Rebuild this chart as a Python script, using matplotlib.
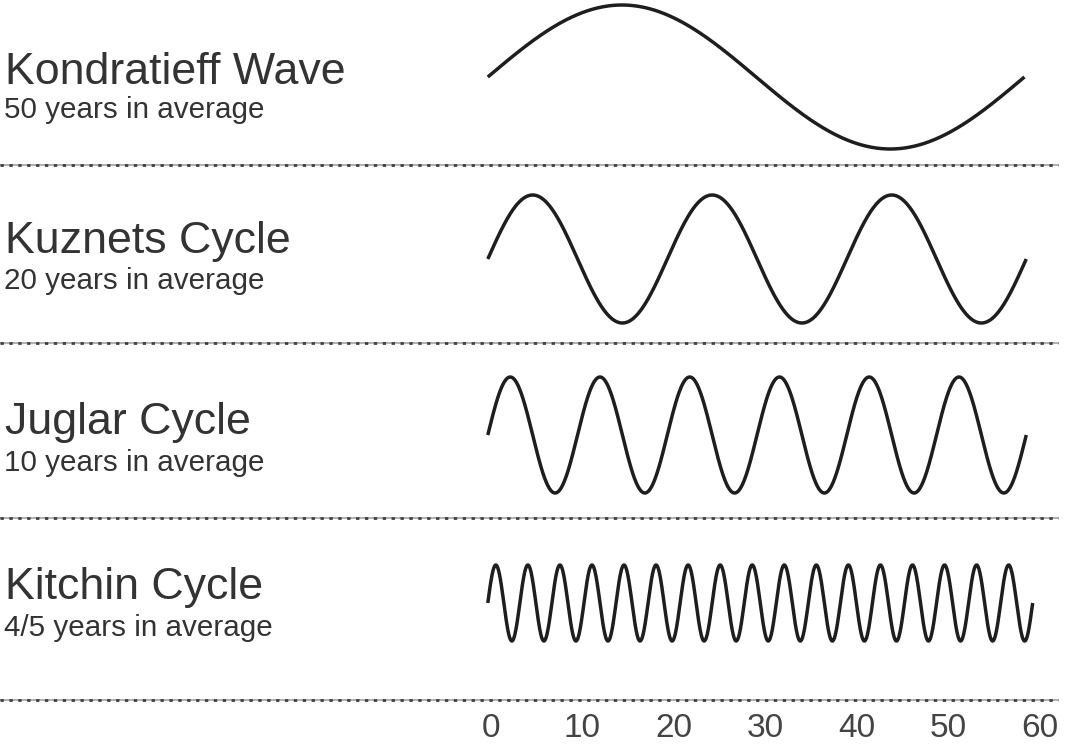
import numpy as np
import matplotlib
matplotlib.use("Agg")
import matplotlib.pyplot as plt

# --- data ---
cycle_names = ["Kondratieff Wave", "Kuznets Cycle", "Juglar Cycle", "Kitchin Cycle"]
cycle_notes = ["50 years in average", "20 years in average",
               "10 years in average", "4/5 years in average"]
cycles_drawn = [1, 3, 6, 17]            # full waves drawn across the strip
wave_end = [58.3, 58.5, 58.5, 59.2]     # years, where each drawn wave stops
wave_start = -0.35
amplitude = [72, 64, 58, 38]            # drawn half-height (px)
year_ticks = [0, 10, 20, 30, 40, 50, 60]

# --- layout (pixels of the 1075x753 picture) ---
W, H = 1075, 753
row_mid = [77, 259, 435, 603]
title_base = [84, 253, 434, 599]
note_base = [118, 289, 471, 636]
sep_y = [165, 343, 518, 700]
ax_bottom = 705
px_per_year = 549 / 60.0
x_zero = 491

fig = plt.figure(figsize=(W / 100, H / 100), dpi=100)
ax = fig.add_axes([0, 1 - ax_bottom / H, 1, ax_bottom / H])
ax.set_xlim(-x_zero / px_per_year, (W - x_zero) / px_per_year)
ax.set_ylim(ax_bottom, 0)

for i in range(len(cycle_names)):
    span = wave_end[i] - wave_start
    period = span / cycles_drawn[i]
    x = np.linspace(wave_start, wave_end[i], 1500)
    y = row_mid[i] - amplitude[i] * np.sin(2 * np.pi * (x - wave_start) / period)
    ax.plot(x, y, color="#1e1e1e", lw=2.5, solid_capstyle="butt")

    fig.text(5 / W, 1 - title_base[i] / H, cycle_names[i], fontsize=32.2,
             family="Liberation Sans", color="#333333", va="baseline", ha="left")
    fig.text(4 / W, 1 - note_base[i] / H, cycle_notes[i], fontsize=21.3,
             family="Liberation Sans", color="#333333", va="baseline", ha="left")

# dotted separators
for y in sep_y:
    ax.axhline(y, xmin=0, xmax=1058 / W, color="#b0b0b0", lw=1.4)
    ax.axhline(y, xmin=0, xmax=1058 / W, color="#404040", lw=2.0,
               linestyle=(0, (1.2, 2.0)))

ax.set_xticks(year_ticks)
ax.set_xticklabels([str(t) for t in year_ticks], family="Liberation Sans",
                   fontsize=24, color="#444444")
ax.tick_params(axis="x", length=0, pad=6)
ax.set_yticks([])
for s in ax.spines.values():
    s.set_visible(False)

fig.savefig("out.png", dpi=100, facecolor="white")
